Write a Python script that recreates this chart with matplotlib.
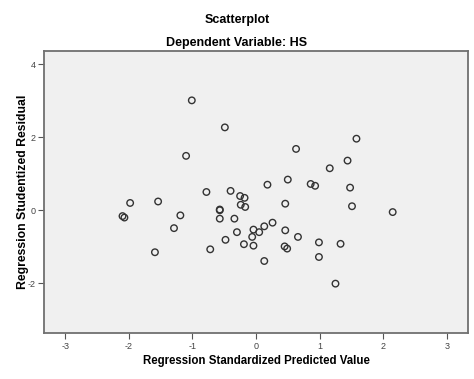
import matplotlib
matplotlib.use("Agg")
import matplotlib.pyplot as plt

# Regression standardized predicted value (x) vs studentized residual (y)
pred = [
    -1.01, -0.49, -1.10, -0.78, -0.40, -0.25, -0.18, -0.24, -0.17,
    -1.98, -1.54, -0.57, -0.57, -2.10, -2.07, -1.19, -1.29, -1.59,
    -0.57, -0.34, -0.30, -0.48, -0.72, -0.19,
    1.58, 0.63, 1.44, 1.16, 0.50, 0.18, 0.86, 0.93, 1.48, 0.46, 1.51,
    2.15, 0.26, 0.13, -0.04, 0.05, 0.46, -0.06, 0.66, -0.04,
    0.99, 1.33, 0.45, 0.49, 0.99, 0.13, 1.25,
]
resid = [
    3.01, 2.27, 1.49, 0.50, 0.53, 0.39, 0.34, 0.15, 0.09,
    0.20, 0.24, 0.02, 0.00, -0.16, -0.20, -0.14, -0.49, -1.15,
    -0.23, -0.23, -0.60, -0.81, -1.07, -0.93,
    1.96, 1.68, 1.36, 1.15, 0.84, 0.70, 0.72, 0.67, 0.62, 0.18, 0.11,
    -0.05, -0.34, -0.44, -0.53, -0.60, -0.55, -0.73, -0.73, -0.97,
    -0.88, -0.92, -0.99, -1.05, -1.28, -1.39, -2.01,
]
xticks = [-3, -2, -1, 0, 1, 2, 3]
yticks = [-2, 0, 2, 4]

plt.rcParams["font.family"] = ["Liberation Sans", "DejaVu Sans"]
plt.rcParams["axes.unicode_minus"] = False

fig = plt.figure(figsize=(4.74, 3.79), dpi=100)
ax = fig.add_axes([0.0935, 0.1206, 0.8932, 0.7456])
ax.set_facecolor("#f0f0f0")

ax.scatter(pred, resid, s=22, facecolors="none", edgecolors="#333333",
           linewidths=1.0, zorder=3)

ax.set_xlim(-3.33, 3.33)
ax.set_ylim(-3.37, 4.37)
ax.set_xticks(xticks)
ax.set_yticks(yticks)
ax.tick_params(direction="out", length=4, width=0.8, color="#555555",
               labelsize=6.5, labelcolor="#444444", pad=2)

for sp in ax.spines.values():
    sp.set_color("#707070")
    sp.set_linewidth(1.3)

ax.set_xlabel("Regression Standardized Predicted Value", fontsize=8.3,
              fontweight="bold")
ax.set_ylabel("Regression Studentized Residual", fontsize=8.8,
              fontweight="bold")
ax.xaxis.set_label_coords(0.5, -0.078)
ax.yaxis.set_label_coords(-0.037, 0.5)

fig.text(0.5, 0.9385, "Scatterplot", ha="center", va="baseline",
         fontsize=9, fontweight="bold")
fig.text(0.5, 0.8794, "Dependent Variable: HS", ha="center", va="baseline",
         fontsize=9, fontweight="bold")

fig.savefig("out.png", dpi=100)
